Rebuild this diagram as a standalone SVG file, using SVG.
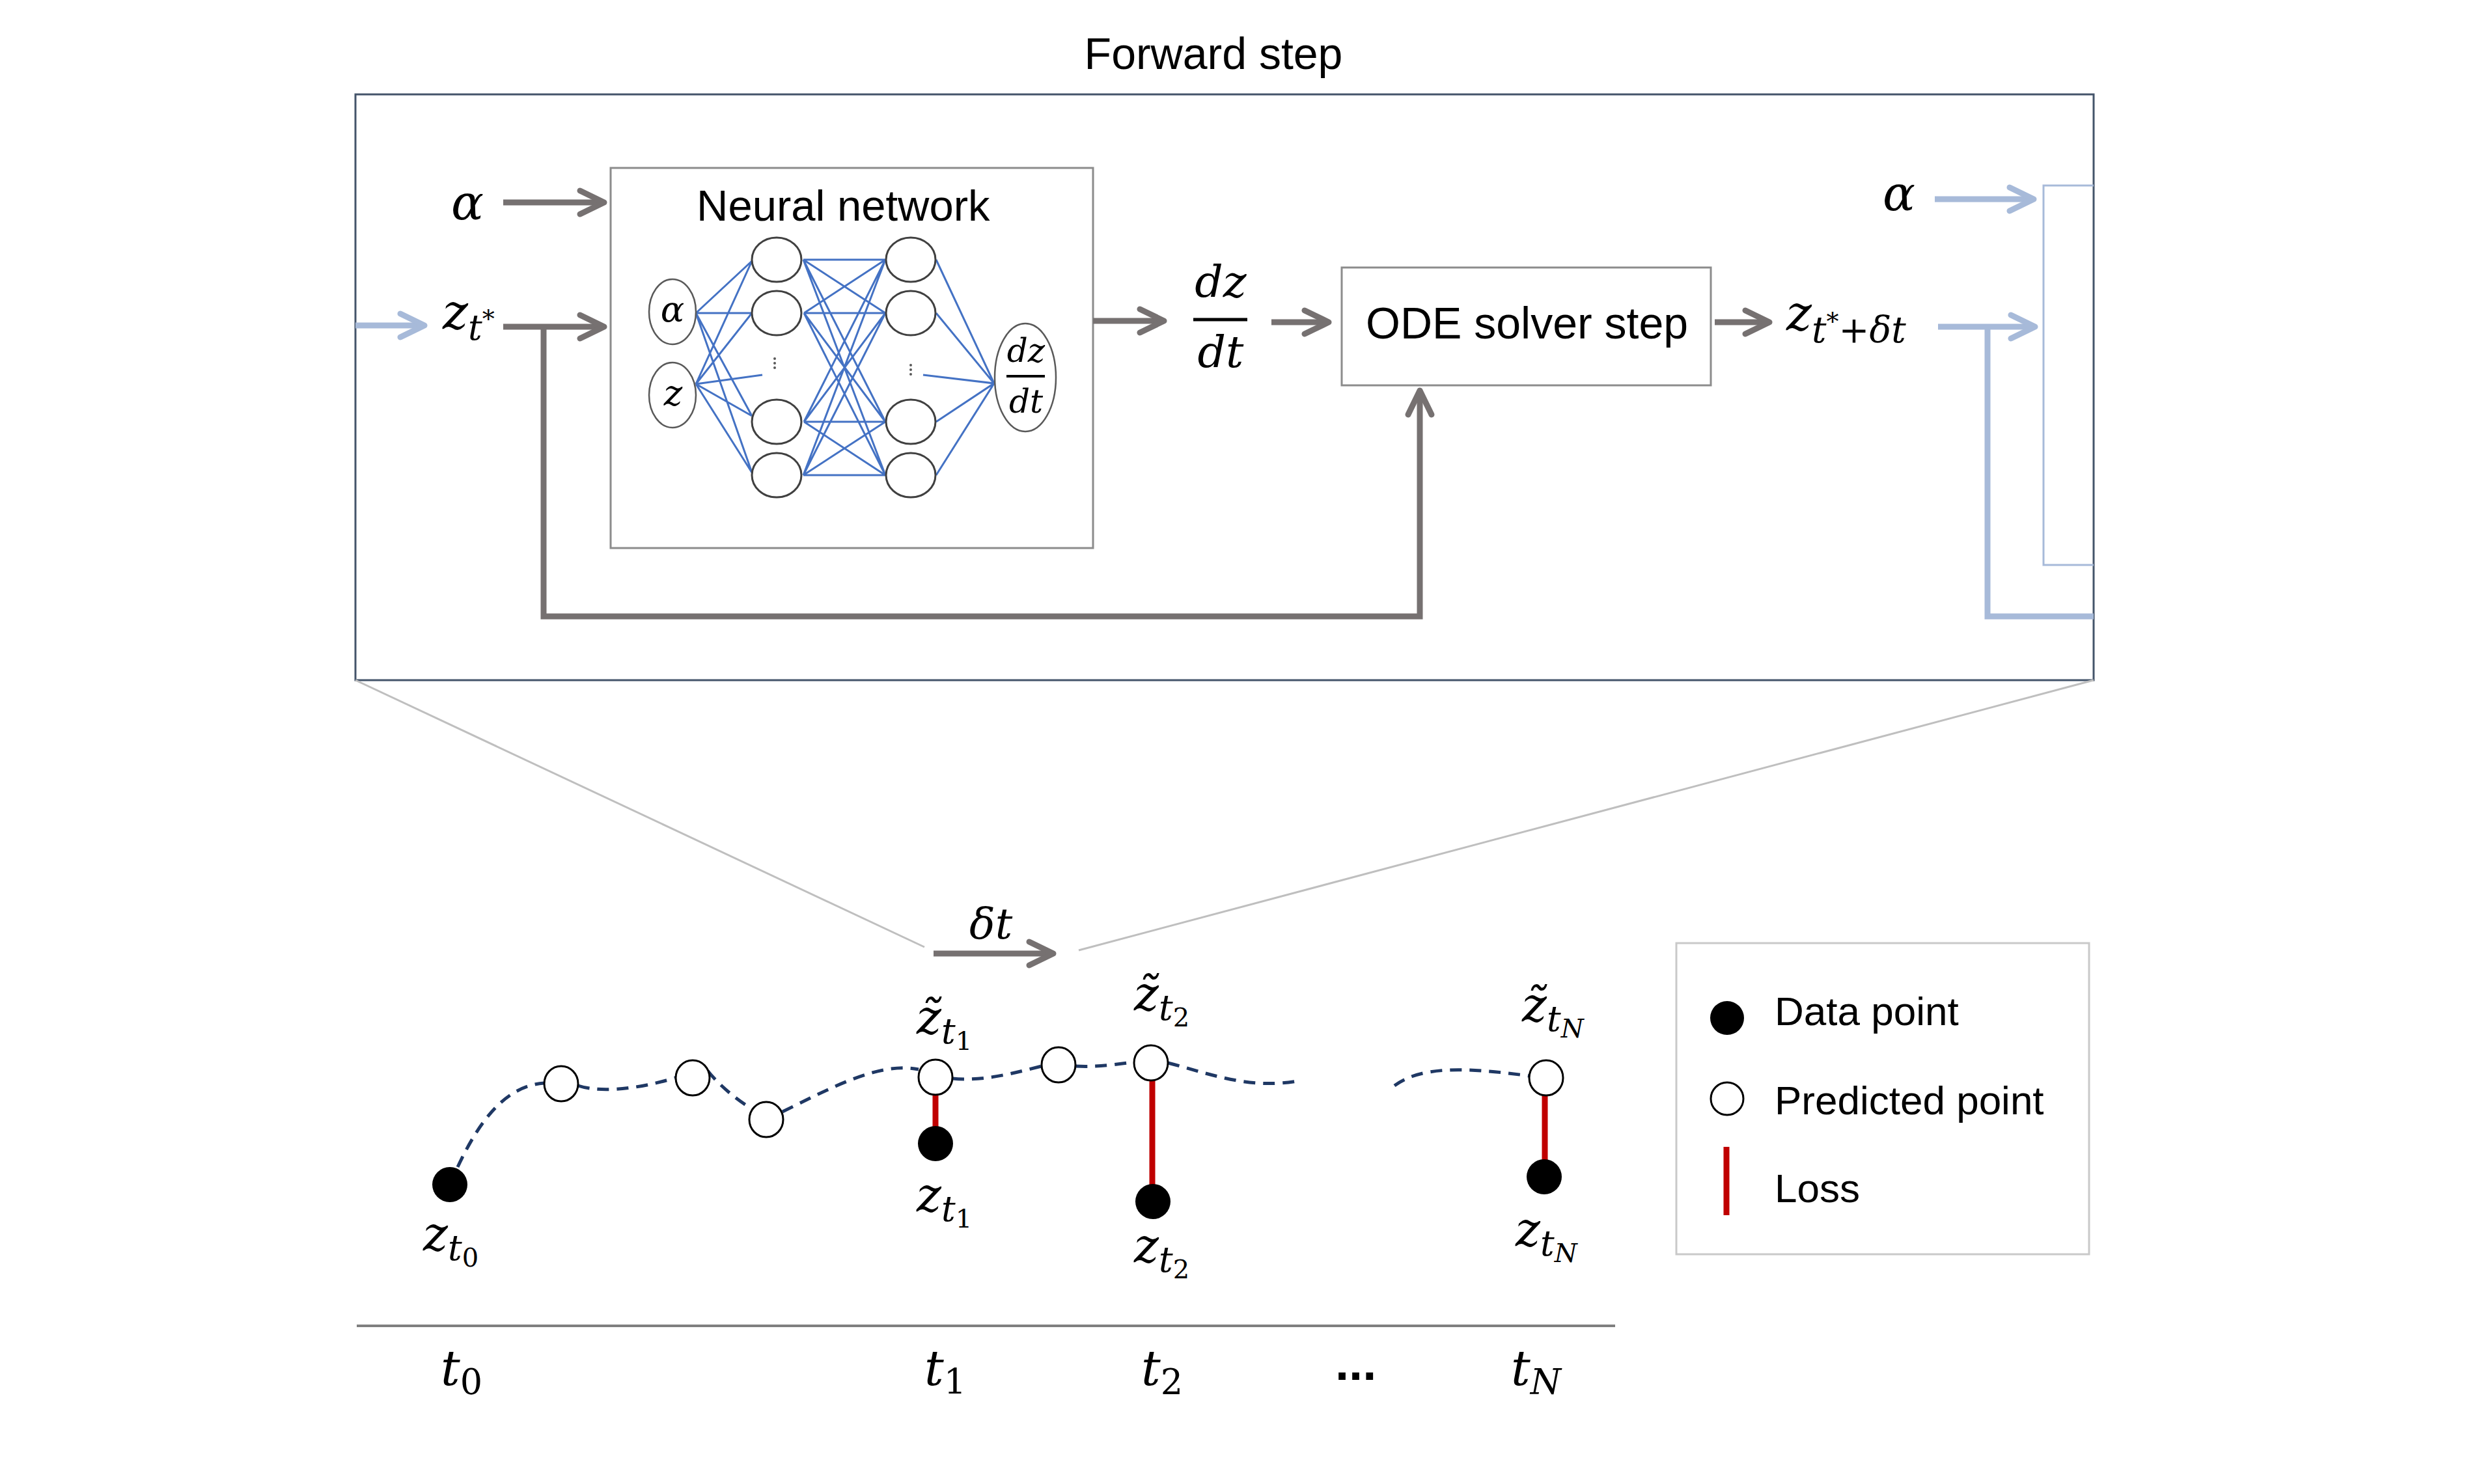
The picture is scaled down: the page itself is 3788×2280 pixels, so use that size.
<svg xmlns="http://www.w3.org/2000/svg" width="3788" height="2280" viewBox="0 0 3788 2280">
<style>
.sans{font-family:"Liberation Sans",Arial,sans-serif;fill:#000}
.m{font-family:"DejaVu Serif","Liberation Serif",serif;font-style:italic;fill:#000}
.up{font-style:normal}
.gray{fill:none;stroke:#767171;stroke-width:9}
.blue{fill:none;stroke:#A7BAD9;stroke-width:9}
.box{fill:#fff;stroke:#8C8C8C;stroke-width:3}
.nn{fill:none;stroke:#4472C4;stroke-width:3}
.neuron{fill:#fff;stroke:#404040;stroke-width:3}
.inp{fill:#fff;stroke:#595959;stroke-width:2.5}
.dash{fill:none;stroke:#1F3864;stroke-width:5;stroke-dasharray:18 12}
.loss{stroke:#C00000;stroke-width:9}
.pred{fill:#fff;stroke:#000;stroke-width:3}
.data{fill:#000}
.zoomline{stroke:#BFBFBF;stroke-width:3}
</style>
<defs>
<marker id="ag" markerUnits="userSpaceOnUse" markerWidth="60" markerHeight="60" refX="50" refY="30" orient="auto" overflow="visible"><path d="M13 12 L50 30 L13 48" fill="none" stroke="#767171" stroke-width="9" stroke-linecap="round" stroke-linejoin="round"/></marker>
<marker id="ab" markerUnits="userSpaceOnUse" markerWidth="60" markerHeight="60" refX="50" refY="30" orient="auto" overflow="visible"><path d="M13 12 L50 30 L13 48" fill="none" stroke="#A7BAD9" stroke-width="9" stroke-linecap="round" stroke-linejoin="round"/></marker>
</defs>
<rect width="3788" height="2280" fill="#fff"/>

<g id="title"><text class="sans" x="1864" y="106" font-size="68" text-anchor="middle">Forward step</text></g>

<g id="frame"><rect x="546" y="145" width="2670" height="900" fill="none" stroke="#44546A" stroke-width="3"/></g>

<g id="zoom-lines">
<line class="zoomline" x1="546" y1="1045" x2="1420" y2="1455"/>
<line class="zoomline" x1="3216" y1="1045" x2="1657" y2="1460"/>
</g>

<g id="neural-network">
<rect class="box" x="938" y="258" width="741" height="584"/>
<text class="sans" x="1070" y="339" font-size="67">Neural network</text>
<g id="nn-edges">
<path class="nn" d="M1069 481 L1155 401 M1069 481 L1155 481 M1069 481 L1155 639 M1069 481 L1155 726
M1069 590 L1155 401 M1069 590 L1155 481 M1069 590 L1155 639 M1069 590 L1155 726 M1069 590 L1171 576
M1234 399 L1360 399 M1234 399 L1360 481 M1234 399 L1360 648 M1234 399 L1360 730
M1235 481 L1360 399 M1235 481 L1360 481 M1235 481 L1360 648 M1235 481 L1360 730
M1235 648 L1360 399 M1235 648 L1360 481 M1235 648 L1360 648 M1235 648 L1360 730
M1234 730 L1360 399 M1234 730 L1360 481 M1234 730 L1360 648 M1234 730 L1360 730
M1438 399 L1527 589 M1438 481 L1527 589 M1438 648 L1527 589 M1438 730 L1527 589 M1418 576 L1527 589"/>
</g>
<ellipse class="inp" cx="1033" cy="479" rx="36" ry="50"/>
<ellipse class="inp" cx="1033" cy="607" rx="36" ry="50"/>
<text class="m" x="1033" y="494" font-size="54" text-anchor="middle">α</text>
<text class="m" x="1034" y="623" font-size="54" text-anchor="middle">z</text>
<ellipse class="neuron" cx="1193" cy="399" rx="38" ry="34"/>
<ellipse class="neuron" cx="1193" cy="481" rx="38" ry="34"/>
<ellipse class="neuron" cx="1193" cy="648" rx="38" ry="34"/>
<ellipse class="neuron" cx="1193" cy="730" rx="38" ry="34"/>
<ellipse class="neuron" cx="1399" cy="399" rx="38" ry="34"/>
<ellipse class="neuron" cx="1399" cy="481" rx="38" ry="34"/>
<ellipse class="neuron" cx="1399" cy="648" rx="38" ry="34"/>
<ellipse class="neuron" cx="1399" cy="730" rx="38" ry="34"/>
<g fill="#595959"><circle cx="1190" cy="551" r="2"/><circle cx="1190" cy="558" r="2"/><circle cx="1190" cy="565" r="2"/>
<circle cx="1399" cy="561" r="2"/><circle cx="1399" cy="568" r="2"/><circle cx="1399" cy="575" r="2"/></g>
<ellipse class="inp" cx="1575" cy="580" rx="47" ry="83"/>
<text class="m" x="1576" y="556" font-size="50" text-anchor="middle">dz</text>
<line x1="1546" y1="578" x2="1605" y2="578" stroke="#000" stroke-width="4"/>
<text class="m" x="1576" y="634" font-size="50" text-anchor="middle">dt</text>
</g>

<g id="ode-solver">
<rect class="box" x="2061" y="411" width="567" height="181"/>
<text class="sans" x="2098" y="520" font-size="68">ODE solver step</text>
</g>

<g id="labels-top">
<text class="m" x="693" y="337" font-size="74">α</text>
<text class="m" x="680" y="505" font-size="74">z<tspan font-size="54" dy="17">t</tspan><tspan font-size="38" dy="-19">*</tspan></text>
<text class="m" x="1875" y="456" font-size="68" text-anchor="middle">dz</text>
<line x1="1833" y1="491" x2="1916" y2="491" stroke="#000" stroke-width="5"/>
<text class="m" x="1875" y="564" font-size="68" text-anchor="middle">dt</text>
<text class="m" x="2744" y="507" font-size="74">z<tspan font-size="56" dy="19">t</tspan><tspan font-size="38" dy="-19">*</tspan><tspan font-size="56" dy="19" class="up">+</tspan><tspan font-size="56">δt</tspan></text>
<text class="m" x="2892" y="323" font-size="74">α</text>
</g>

<g id="connectors">
<line class="gray" x1="773" y1="311" x2="928" y2="311" marker-end="url(#ag)"/>
<line class="gray" x1="773" y1="502" x2="928" y2="502" marker-end="url(#ag)"/>
<path class="gray" d="M835 502 V947 H2181 V600" marker-end="url(#ag)"/>
<line class="gray" x1="1679" y1="493" x2="1788" y2="493" marker-end="url(#ag)"/>
<line class="gray" x1="1953" y1="495" x2="2041" y2="495" marker-end="url(#ag)"/>
<line class="gray" x1="2634" y1="495" x2="2718" y2="495" marker-end="url(#ag)"/>
<line class="blue" x1="546" y1="500" x2="652" y2="500" marker-end="url(#ab)"/>
<line class="blue" x1="2972" y1="306" x2="3124" y2="306" marker-end="url(#ab)"/>
<line class="blue" x1="2977" y1="502" x2="3126" y2="502" marker-end="url(#ab)"/>
<path class="blue" d="M3053 502 V947 H3216"/>
<path d="M3216 285 H3139 V868 H3216" fill="none" stroke="#A7BAD9" stroke-width="3"/>
<line class="gray" x1="1434" y1="1465" x2="1618" y2="1465" marker-end="url(#ag)"/>
</g>

<g id="trajectory">
<path class="dash" d="M703 1793 C735 1725 775 1668 836 1664"/>
<path class="dash" d="M888 1668 C930 1682 1000 1668 1040 1655"/>
<path class="dash" d="M1087 1645 C1100 1662 1130 1690 1158 1705"/>
<path class="dash" d="M1202 1708 C1270 1675 1350 1630 1411 1643"/>
<path class="dash" d="M1463 1657 C1510 1662 1560 1648 1600 1638"/>
<path class="dash" d="M1652 1638 C1690 1640 1720 1634 1742 1632"/>
<path class="dash" d="M1794 1633 C1860 1650 1920 1675 1998 1660"/>
<path class="dash" d="M2142 1668 C2180 1640 2240 1638 2349 1653"/>
<line class="loss" x1="1437" y1="1681" x2="1437" y2="1735"/>
<line class="loss" x1="1770" y1="1659" x2="1770" y2="1822"/>
<line class="loss" x1="2373" y1="1682" x2="2373" y2="1785"/>
</g>

<g id="points">
<circle class="data" cx="691" cy="1820" r="27"/>
<circle class="data" cx="1437" cy="1757" r="27"/>
<circle class="data" cx="1771" cy="1846" r="27"/>
<circle class="data" cx="2372" cy="1808" r="27"/>
<ellipse class="pred" cx="862" cy="1665" rx="26" ry="27"/>
<ellipse class="pred" cx="1064" cy="1656" rx="26" ry="27"/>
<ellipse class="pred" cx="1177" cy="1720" rx="26" ry="27"/>
<ellipse class="pred" cx="1437" cy="1655" rx="26" ry="27"/>
<ellipse class="pred" cx="1626" cy="1636" rx="26" ry="27"/>
<ellipse class="pred" cx="1768" cy="1633" rx="26" ry="27"/>
<ellipse class="pred" cx="2375" cy="1656" rx="26" ry="27"/>
</g>

<g id="labels-bottom">
<text class="m" x="1489" y="1442" font-size="66">δt</text>
<text class="m" x="1408" y="1588" font-size="72">z̃<tspan font-size="54" dy="15">t</tspan><tspan font-size="40" dy="10" class="up">1</tspan></text>
<text class="m" x="1742" y="1552" font-size="72">z̃<tspan font-size="54" dy="15">t</tspan><tspan font-size="40" dy="10" class="up">2</tspan></text>
<text class="m" x="2338" y="1569" font-size="72">z̃<tspan font-size="54" dy="15">t</tspan><tspan font-size="40" dy="10">N</tspan></text>
<text class="m" x="650" y="1921" font-size="72">z<tspan font-size="54" dy="15">t</tspan><tspan font-size="40" dy="10" class="up">0</tspan></text>
<text class="m" x="1408" y="1861" font-size="72">z<tspan font-size="54" dy="15">t</tspan><tspan font-size="40" dy="10" class="up">1</tspan></text>
<text class="m" x="1742" y="1939" font-size="72">z<tspan font-size="54" dy="15">t</tspan><tspan font-size="40" dy="10" class="up">2</tspan></text>
<text class="m" x="2328" y="1914" font-size="72">z<tspan font-size="54" dy="15">t</tspan><tspan font-size="40" dy="10">N</tspan></text>
</g>

<g id="time-axis">
<line x1="548" y1="2037" x2="2481" y2="2037" stroke="#7F7F7F" stroke-width="4"/>
<text class="m" x="677" y="2128" font-size="74">t<tspan font-size="54" dy="14" class="up">0</tspan></text>
<text class="m" x="1420" y="2128" font-size="74">t<tspan font-size="54" dy="14" class="up">1</tspan></text>
<text class="m" x="1753" y="2128" font-size="74">t<tspan font-size="54" dy="14" class="up">2</tspan></text>
<text class="sans" x="2051" y="2120" font-size="76" font-weight="bold">...</text>
<text class="m" x="2321" y="2128" font-size="74">t<tspan font-size="54" dy="14">N</tspan></text>
</g>

<g id="legend">
<rect x="2575" y="1449" width="634" height="478" fill="#fff" stroke="#C9C9C9" stroke-width="3"/>
<circle class="data" cx="2653" cy="1564" r="26"/>
<text class="sans" x="2726" y="1575" font-size="62">Data point</text>
<circle class="pred" cx="2653" cy="1688" r="25"/>
<text class="sans" x="2726" y="1712" font-size="62">Predicted point</text>
<line class="loss" x1="2652" y1="1762" x2="2652" y2="1867"/>
<text class="sans" x="2726" y="1847" font-size="62">Loss</text>
</g>
</svg>
